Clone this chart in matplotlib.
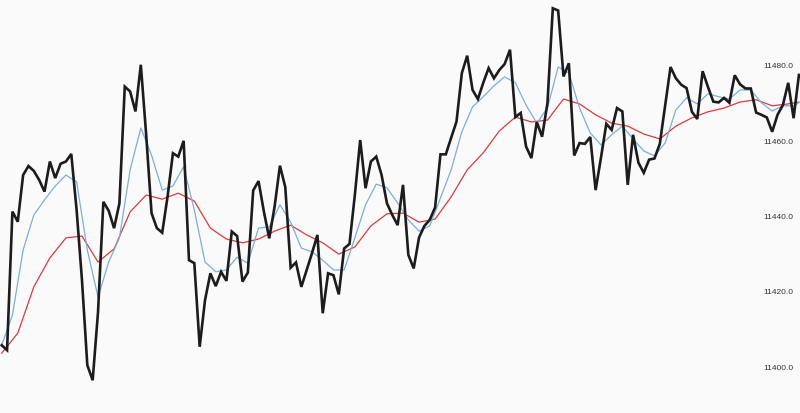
"""Price with fast and slow moving averages, right-hand inner price scale."""

import matplotlib
matplotlib.use("Agg")
import matplotlib.pyplot as plt
import numpy as np

# close prices, one per bar
PRICE = [
    11405.8, 11404.5, 11441.3, 11438.6, 11451.0, 11453.4, 11452.1, 11449.7, 11446.6, 11454.6,
    11450.2, 11454.0, 11454.6, 11456.6, 11441.7, 11423.1, 11400.5, 11396.5, 11414.6, 11443.9,
    11441.5, 11436.9, 11443.5, 11474.5, 11473.2, 11467.9, 11480.3, 11461.7, 11440.9, 11436.9,
    11435.7, 11445.3, 11456.8, 11455.9, 11460.1, 11428.4, 11427.6, 11405.4, 11417.8, 11424.9,
    11421.5, 11425.3, 11422.9, 11436.0, 11434.8, 11422.7, 11425.1, 11446.9, 11449.4, 11441.3,
    11434.2, 11442.6, 11453.5, 11447.8, 11426.4, 11427.8, 11421.3, 11425.8, 11430.3, 11435.1,
    11414.3, 11424.9, 11424.4, 11419.3, 11431.5, 11432.7, 11445.7, 11460.3, 11447.5, 11454.6,
    11455.9, 11451.0, 11443.5, 11440.4, 11437.7, 11448.4, 11429.8, 11426.2, 11434.4, 11437.5,
    11439.1, 11442.4, 11456.5, 11456.5, 11460.9, 11465.2, 11478.1, 11482.7, 11473.6, 11471.2,
    11475.5, 11479.4, 11476.7, 11478.9, 11480.5, 11484.3, 11466.4, 11467.5, 11458.6, 11455.5,
    11465.1, 11461.2, 11470.1, 11495.3, 11494.7, 11477.2, 11480.7, 11456.2, 11459.5, 11459.3,
    11461.1, 11447.0, 11455.6, 11464.6, 11463.0, 11468.8, 11467.9, 11448.4, 11461.7, 11454.3,
    11451.6, 11455.1, 11455.4, 11459.3, 11469.6, 11479.7, 11476.7, 11475.0, 11474.1, 11467.8,
    11465.9, 11478.6, 11474.4, 11470.5, 11470.3, 11471.5, 11470.2, 11477.5, 11475.1, 11474.0,
    11474.0, 11467.6, 11467.0, 11466.3, 11462.5, 11467.0, 11469.6, 11475.5, 11466.1, 11477.6,
]

# fast average, read every second bar
FAST_IDX = list(range(0, 150, 2)) + [149]
FAST = [
    11405.8, 11413.8, 11431.1, 11440.4, 11444.4, 11448.1, 11451.0, 11449.2, 11431.1, 11418.6,
    11427.9, 11434.3, 11452.4, 11463.5, 11456.3, 11447.0, 11448.1, 11453.2, 11441.7, 11427.9,
    11425.3, 11425.8, 11429.2, 11427.6, 11436.9, 11437.2, 11443.1, 11438.5, 11431.6, 11430.6,
    11428.4, 11425.8, 11425.8, 11434.3, 11443.1, 11448.6, 11447.6, 11443.6, 11439.1, 11436.1,
    11437.5, 11444.9, 11452.4, 11462.5, 11469.1, 11471.8, 11474.7, 11477.1, 11475.5, 11469.6,
    11464.8, 11468.8, 11479.7, 11478.1, 11468.8, 11462.2, 11459.0, 11461.7, 11464.0, 11460.6,
    11457.4, 11456.1, 11459.5, 11468.3, 11471.5, 11469.9, 11472.6, 11471.8, 11471.2, 11473.6,
    11473.6, 11470.2, 11468.0, 11469.4, 11469.4, 11470.2,
]

# slow average, read every third bar
SLOW_IDX = list(range(0, 150, 3)) + [149]
SLOW = [
    11403.7, 11409.0, 11421.3, 11429.0, 11434.3, 11434.8, 11427.9, 11431.4, 11441.2, 11445.7,
    11444.6, 11446.2, 11444.1, 11436.9, 11434.0, 11433.0, 11434.0, 11436.1, 11437.7, 11435.1,
    11433.0, 11430.0, 11431.9, 11437.5, 11440.7, 11440.9, 11438.5, 11439.3, 11445.2, 11452.4,
    11456.9, 11462.7, 11466.4, 11465.1, 11465.6, 11471.2, 11469.9, 11467.0, 11464.8, 11464.0,
    11461.9, 11460.6, 11464.0, 11466.2, 11467.8, 11468.8, 11470.4, 11471.0, 11469.4, 11469.9,
    11470.4,
]

Y_TICKS = [11400, 11420, 11440, 11460, 11480]

BG = "#fafafb"


def main() -> None:
    plt.rcParams["font.family"] = ["Liberation Sans", "DejaVu Sans"]

    fig = plt.figure(figsize=(8.0, 4.13), dpi=100, facecolor=BG)
    ax = fig.add_axes([0, 0, 1, 1])
    ax.set_facecolor(BG)

    x = np.arange(len(PRICE))
    ax.plot(SLOW_IDX, SLOW, color="#e0393b", linewidth=0.9, zorder=2)
    ax.plot(FAST_IDX, FAST, color="#78b0e2", linewidth=0.9, zorder=3)
    ax.plot(x, PRICE, color="#1c1c1c", linewidth=1.9, zorder=4, solid_joinstyle="miter")

    ax.set_xlim(-0.32, 149.2)
    ax.set_ylim(11387.8, 11497.5)

    ax.set_xticks([])
    ax.yaxis.tick_right()
    ax.set_yticks(Y_TICKS)
    ax.set_yticklabels([f"{v:.1f}" for v in Y_TICKS])
    ax.tick_params(axis="y", length=0, pad=-5, labelsize=6, labelcolor="#333333")
    for lbl in ax.get_yticklabels():
        lbl.set_horizontalalignment("right")

    for s in ax.spines.values():
        s.set_visible(False)

    fig.savefig("out.png", dpi=100, facecolor=BG)
    plt.close(fig)


if __name__ == "__main__":
    main()
